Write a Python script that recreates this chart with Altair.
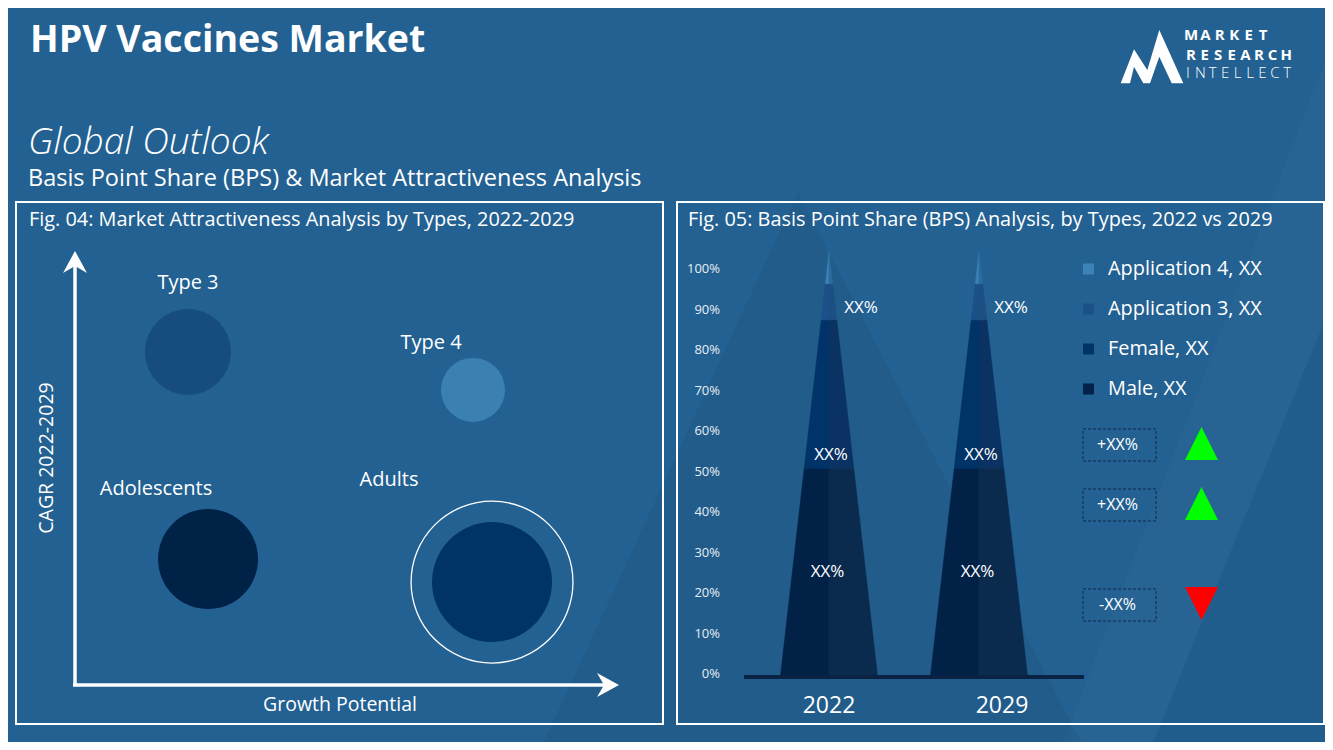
import altair as alt
import pandas as pd

# ---------------- data ----------------
main_title = "HPV Vaccines Market"
outlook_title = "Global Outlook"
outlook_subtitle = "Basis Point Share (BPS) & Market Attractiveness  Analysis"
fig4_title = "Fig. 04: Market Attractiveness Analysis by Types, 2022-2029"
fig5_title = "Fig. 05: Basis Point Share (BPS) Analysis, by Types, 2022 vs 2029"
x_axis_title = "Growth Potential"
y_axis_title = "CAGR 2022-2029"
logo_lines = ["MARKET", "RESEARCH", "INTELLECT"]

bubble_names = ["Type 3", "Type 4", "Adolescents", "Adults"]
bubble_growth = [20.8, 73.3, 24.5, 76.8]
bubble_cagr = [78.0, 69.1, 29.5, 24.1]
bubble_size = [74, 41, 100, 144]
bubble_highlight = [False, False, False, True]

years = ["2022", "2029"]
segments = ["Male", "Female", "Application 3", "Application 4"]
share_2022 = [49.0, 35.0, 8.5, 7.5]
share_2029 = [49.0, 35.0, 8.5, 7.5]
segment_value_labels = ["XX%", "XX%", "XX%", ""]
legend_segments = ["Application 4", "Application 3", "Female", "Male"]
legend_labels = ["Application 4, XX", "Application 3, XX", "Female, XX", "Male, XX"]
pct_ticks = [0, 10, 20, 30, 40, 50, 60, 70, 80, 90, 100]
change_labels = ["+XX%", "+XX%", "-XX%"]
change_direction = ["up", "up", "down"]

# ---------------- layout / style ----------------
OFF = 8
W, H = 1317, 734
BG = "#236192"
FONT = "Open Sans"
WHITE = "#ffffff"

bubble_colors = {"Type 3": "#174c80", "Type 4": "#3a80b0",
                 "Adolescents": "#012247", "Adults": "#003366"}
bubble_label_offsets = {"Type 3": (0, -69), "Type 4": (-42, -47),
                        "Adolescents": (-52, -70), "Adults": (-103, -102)}
RING_FACTOR = 1.82

seg_left_colors = {"Male": "#012147", "Female": "#003468",
                   "Application 3": "#1b5089", "Application 4": "#3b82b4"}
seg_right_colors = {"Male": "#0b2b4e", "Female": "#0a3262",
                    "Application 3": "#1d4f83", "Application 4": "#2c6d9f"}
legend_colors = {"Application 4": "#3d84b6", "Application 3": "#1c5188",
                 "Female": "#003468", "Male": "#03214a"}
seg_label_style = {"Male": (0.5, -1.5), "Female": (0.09, 2), "Application 3": (0.33, 32)}
CONE_HALF = 0.3233
year_label_dx = [0, 23]
CHANGE_Y = [445, 505, 605]
# logo letter layout: (first letter centre x, pitch, centre y, weight, size)
logo_layout = [(1191, 14.4, 35, "bold", 15), (1191, 13.6, 55, "bold", 15), (1188, 12.4, 73, 300, 15)]


def sc(d0, d1, r0, r1):
    return alt.Scale(domain=[d0, d1], range=[r0 - OFF, r1 - OFF], nice=False, zero=False)


PX = sc(0, 1333, 0, 1333)
PY = sc(0, 750, 0, 750)
BX = sc(0, 100, 75, 618)      # growth potential
BY = sc(0, 100, 685, 258)     # CAGR
CX = sc(-1, 2, 679, 1129)     # cone position (year index)
CY = sc(0, 100, 676, 252)     # cone share
TY = sc(0, 100, 674, 269)     # percent tick labels
LY = sc(0, 3, 269, 389)       # legend rows


def text_at(txt, x, y, **kw):
    df = pd.DataFrame({"px": [x], "py": [y], "t": [txt]})
    base = dict(font=FONT, color=WHITE)
    base.update(kw)
    return alt.Chart(df).mark_text(**base).encode(
        x=alt.X("px:Q", scale=PX, axis=None),
        y=alt.Y("py:Q", scale=PY, axis=None),
        text="t:N")


def shape_at(path, x, y, color, opacity=1.0, size=4):
    df = pd.DataFrame({"px": [x], "py": [y]})
    return alt.Chart(df).mark_point(shape=path, filled=True, fill=color, opacity=opacity,
                                    strokeWidth=0, size=size).encode(
        x=alt.X("px:Q", scale=PX, axis=None),
        y=alt.Y("py:Q", scale=PY, axis=None))


def seg_line(x0, y0, x1, y1, color=WHITE, width=3.5):
    df = pd.DataFrame({"px": [x0], "py": [y0], "px2": [x1], "py2": [y1]})
    return alt.Chart(df).mark_rule(color=color, strokeWidth=width).encode(
        x=alt.X("px:Q", scale=PX, axis=None), y=alt.Y("py:Q", scale=PY, axis=None),
        x2="px2:Q", y2="py2:Q")


def frame(x0, y0, x1, y1):
    df = pd.DataFrame({"px": [x0], "py": [y0], "px2": [x1], "py2": [y1]})
    return alt.Chart(df).mark_rect(filled=False, stroke=WHITE, strokeWidth=2).encode(
        x=alt.X("px:Q", scale=PX, axis=None), y=alt.Y("py:Q", scale=PY, axis=None),
        x2="px2:Q", y2="py2:Q")


layers = []

# background decoration (faint mountains)
layers.append(shape_at("M540,750L798,192L1085,750Z", 0, 0, "#000000", 0.045))
layers.append(shape_at("M1333,300L1150,750L1333,750Z", 0, 0, "#000000", 0.035))
layers.append(shape_at("M1333,40L1333,300L1150,750L1060,750Z", 0, 0, "#ffffff", 0.02))

# header
layers.append(text_at(main_title, 30, 52, fontSize=37.5, fontWeight="bold", align="left", baseline="alphabetic"))
layers.append(text_at(outlook_title, 28, 154, fontSize=37, fontStyle="italic", fontWeight=300,
                      align="left", baseline="alphabetic"))
layers.append(text_at(outlook_subtitle, 28, 186, fontSize=23.5, align="left", baseline="alphabetic"))

# logo
layers.append(shape_at("M-29.3,26.3L-16,-7.7L-2.7,13L9.3,-27L33.3,26.3L21.7,26.3L9.3,-0.3L0,26.3"
                       "L-6.7,26.3L-16,9.7L-20,26.3Z", 1150, 57, WHITE))
for word, (x0, pitch, yc, wt, fs) in zip(logo_lines, logo_layout):
    for i, ch in enumerate(word):
        layers.append(text_at(ch, x0 + i * pitch, yc, fontSize=fs, fontWeight=wt,
                              align="center", baseline="middle"))

# panels
layers.append(frame(16, 202, 663, 724))
layers.append(frame(677, 202, 1324, 724))
layers.append(text_at(fig4_title, 29, 226, fontSize=19.9, align="left", baseline="alphabetic"))
layers.append(text_at(fig5_title, 688, 226, fontSize=19.9, align="left", baseline="alphabetic"))

# ---- Fig 04: bubble chart ----
layers.append(seg_line(75, 262, 75, 685))
layers.append(seg_line(73, 685, 610, 685))
layers.append(shape_at("M0,-11L12,11L0,4L-12,11Z", 75, 262, WHITE))
layers.append(shape_at("M11,0L-11,-12L-4,0L-11,12Z", 608, 685, WHITE))
layers.append(text_at(y_axis_title, 47, 458, fontSize=19.5, angle=270, align="center", baseline="middle"))
layers.append(text_at(x_axis_title, 340, 705, fontSize=19.5, align="center", baseline="middle"))

bubbles = pd.DataFrame({"name": bubble_names, "growth": bubble_growth, "cagr": bubble_cagr,
                        "size": bubble_size, "highlight": bubble_highlight})
bx = alt.X("growth:Q", scale=BX, axis=None)
by = alt.Y("cagr:Q", scale=BY, axis=None)
size_scale = alt.Scale(domain=[0, 100], range=[0, 10000], zero=True, nice=False)
layers.append(alt.Chart(bubbles).mark_circle(opacity=1).encode(
    x=bx, y=by,
    size=alt.Size("size:Q", scale=size_scale, legend=None),
    color=alt.Color("name:N", scale=alt.Scale(domain=list(bubble_colors), range=list(bubble_colors.values())),
                    legend=None)))
layers.append(alt.Chart(bubbles).transform_filter("datum.highlight").transform_calculate(
    ring=f"datum.size * {RING_FACTOR}").mark_point(shape="circle", filled=False, stroke=WHITE,
                                                   strokeWidth=1.3, opacity=1).encode(
    x=bx, y=by, size=alt.Size("ring:Q", scale=size_scale, legend=None)))
for name in bubble_names:
    dx, dy = bubble_label_offsets[name]
    layers.append(alt.Chart(bubbles).transform_filter(f"datum.name == '{name}'").mark_text(
        font=FONT, fontSize=20, color=WHITE, dx=dx, dy=dy, align="center", baseline="middle").encode(
        x=bx, y=by, text="name:N"))

# ---- Fig 05: cone (BPS) chart ----
cone_rows, label_rows = [], []
for yi, (yr, shares) in enumerate(zip(years, [share_2022, share_2029])):
    total = sum(shares)
    bottom = 0.0
    for seg, s, lab in zip(segments, shares, segment_value_labels):
        top = bottom + s
        for p in (bottom, top):
            hw = CONE_HALF * (1 - p / total)
            cone_rows.append(dict(year=yr, key=seg + "|L", pct=p, x0=yi - hw, x1=yi))
            cone_rows.append(dict(year=yr, key=seg + "|R", pct=p, x0=yi, x1=yi + hw))
        if lab:
            frac = seg_label_style[seg][0]
            label_rows.append(dict(year=yr, seg=seg, label=lab, pos=yi, pct=bottom + frac * s))
        bottom = top
cone_df = pd.DataFrame(cone_rows)
label_df = pd.DataFrame(label_rows)

keys, cols = [], []
for seg in segments:
    keys += [seg + "|L", seg + "|R"]
    cols += [seg_left_colors[seg], seg_right_colors[seg]]

layers.append(alt.Chart(cone_df).mark_area(orient="horizontal", opacity=1, strokeWidth=0.6).encode(
    y=alt.Y("pct:Q", scale=CY, axis=None),
    x=alt.X("x0:Q", scale=CX, axis=None, stack=None),
    x2="x1:Q",
    color=alt.Color("key:N", scale=alt.Scale(domain=keys, range=cols), legend=None),
    stroke=alt.Stroke("key:N", scale=alt.Scale(domain=keys, range=cols), legend=None),
    detail="year:N"))

layers.append(seg_line(744, 677, 1084, 677, color="#0a2244", width=4))

for seg in ["Male", "Female", "Application 3"]:
    layers.append(alt.Chart(label_df).transform_filter(f"datum.seg == '{seg}'").mark_text(
        font=FONT, fontSize=17, color=WHITE, dx=seg_label_style[seg][1], align="center",
        baseline="middle").encode(
        x=alt.X("pos:Q", scale=CX, axis=None), y=alt.Y("pct:Q", scale=CY, axis=None), text="label:N"))

year_df = pd.DataFrame({"year": years, "pos": list(range(len(years))), "py": [706] * len(years)})
for i, yr in enumerate(years):
    layers.append(alt.Chart(year_df).transform_filter(f"datum.year == '{yr}'").mark_text(
        font=FONT, fontSize=23, color=WHITE, dx=year_label_dx[i], align="center", baseline="middle").encode(
        x=alt.X("pos:Q", scale=CX, axis=None), y=alt.Y("py:Q", scale=PY, axis=None), text="year:N"))

tick_df = pd.DataFrame({"pct": pct_ticks, "label": [f"{t}%" for t in pct_ticks]})
layers.append(alt.Chart(tick_df).mark_text(font=FONT, fontSize=13, color="#e6edf4", align="right",
                                           baseline="middle").encode(
    x=alt.value(720 - OFF), y=alt.Y("pct:Q", scale=TY, axis=None), text="label:N"))

# legend
leg_df = pd.DataFrame({"row": list(range(len(legend_labels))), "seg": legend_segments, "label": legend_labels})
layers.append(alt.Chart(leg_df).mark_square(size=121, opacity=1).encode(
    x=alt.value(1088.5 - OFF), y=alt.Y("row:Q", scale=LY, axis=None),
    color=alt.Color("seg:N", scale=alt.Scale(domain=list(legend_colors), range=list(legend_colors.values())),
                    legend=None)))
layers.append(alt.Chart(leg_df).mark_text(font=FONT, fontSize=19.9, color=WHITE, align="left",
                                          baseline="middle").encode(
    x=alt.value(1108 - OFF), y=alt.Y("row:Q", scale=LY, axis=None), text="label:N"))

# change indicators
chg_df = pd.DataFrame({"label": change_labels, "dir": change_direction, "cy": CHANGE_Y})
chg_df["y0"] = chg_df["cy"] - 16
chg_df["y1"] = chg_df["cy"] + 16
chg_df["ty"] = chg_df["cy"] - 1.5
layers.append(alt.Chart(chg_df).mark_rect(filled=False, stroke="#0d2748", strokeWidth=1,
                                          strokeDash=[3, 2]).encode(
    x=alt.value(1083 - OFF), x2=alt.value(1156 - OFF),
    y=alt.Y("y0:Q", scale=PY, axis=None), y2="y1:Q"))
layers.append(alt.Chart(chg_df).mark_text(font=FONT, fontSize=16, color=WHITE, align="center",
                                          baseline="middle").encode(
    x=alt.value(1117.5 - OFF), y=alt.Y("cy:Q", scale=PY, axis=None), text="label:N"))
layers.append(alt.Chart(chg_df).mark_point(filled=True, opacity=1, size=1089, strokeWidth=0).encode(
    x=alt.value(1201.5 - OFF), y=alt.Y("ty:Q", scale=PY, axis=None),
    shape=alt.Shape("dir:N", scale=alt.Scale(domain=["up", "down"],
                                             range=["M0,-1L1,1L-1,1Z", "M-1,-1L1,-1L0,1Z"]), legend=None),
    fill=alt.Fill("dir:N", scale=alt.Scale(domain=["up", "down"], range=["#00ff00", "#ff0000"]), legend=None)))

chart = alt.layer(*layers).resolve_scale(
    x="independent", y="independent", color="independent", size="independent",
    shape="independent", fill="independent", stroke="independent"
).properties(width=W, height=H, padding=0, autosize=alt.AutoSizeParams(type="none"),
             background=BG).configure_view(stroke=None)

chart.save("out.html", embed_options={"renderer": "svg", "actions": False})
